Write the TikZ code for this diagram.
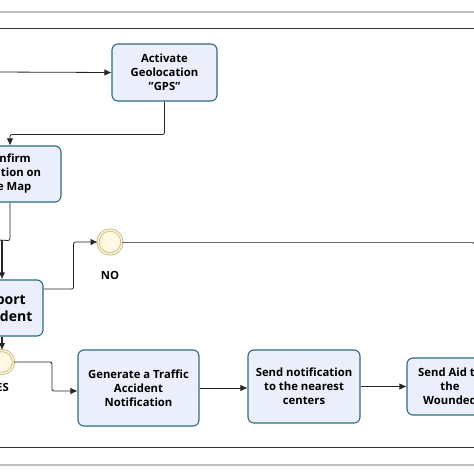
\documentclass[tikz,border=0pt]{standalone}
\usepackage{fontspec}
\setmainfont{Open Sans}[BoldFont={* Bold}]
\usetikzlibrary{arrows.meta}
\definecolor{boxfill}{HTML}{EAEFFB}
\definecolor{boxdraw}{HTML}{2E6A7D}
\definecolor{evfill}{HTML}{FFF9E3}
\definecolor{evdraw}{HTML}{C9BB7E}
\tikzset{
  task/.style={draw=boxdraw, fill=boxfill, line width=1.1pt, rounded corners=6pt,
    align=center, font=\bfseries\fontsize{11.3}{14}\selectfont, inner sep=1pt},
  event/.style={circle, draw=evdraw, fill=evfill, double=evfill, double distance=1.3pt,
    line width=0.9pt, inner sep=0pt},
  flow/.style={draw=black!85, line width=0.8pt, rounded corners=2pt,
    -{Latex[length=7pt,width=6.5pt]}},
  plain/.style={draw=black!85, line width=0.8pt, rounded corners=2pt},
  lbl/.style={font=\bfseries\fontsize{11.3}{13}\selectfont}
}
\begin{document}
\begin{tikzpicture}[x=1pt,y=-1pt]
\useasboundingbox (0,0) rectangle (474,474);
\clip (0,0) rectangle (474,474);
\fill[white] (0,0) rectangle (474,474);
% pool borders
\draw[black!25, line width=1.4pt] (0,12) -- (474,12);
\draw[black!80, line width=0.8pt] (0,28) -- (474,28);
\draw[black!80, line width=0.8pt] (0,447) -- (474,447);
\draw[black!25, line width=1.4pt] (0,465) -- (474,465);
% tasks
\node[task, minimum width=105pt, minimum height=57pt] (act) at (164.5,72.5) {Activate\\Geolocation\\\char34 GPS\char34};
\node[task, minimum width=106pt, minimum height=56pt] (conf) at (8,174) {Confirm\\Location on\\the Map};
\node[task, minimum width=82pt, minimum height=56pt, font=\bfseries\fontsize{14}{16.5}\selectfont] (rep) at (2,308) {Report\\Accident};
\node[task, minimum width=121pt, minimum height=76pt] (gen) at (138.5,388) {Generate a Traffic\\Accident\\Notification};
\node[task, minimum width=112pt, minimum height=73pt] (sendn) at (304,386.5) {Send notification\\to the nearest\\centers};
\node[task, minimum width=86pt, minimum height=57pt] (aid) at (450,386.5) {Send Aid to\\the\\Wounded};
% events
\node[event, minimum size=24pt] (no) at (110,242) {};
\node[lbl] (nolbl) at (110,275) {NO};
\node[event, minimum size=23pt] (yes) at (2,362) {};
\node[lbl] (yeslbl) at (-1,387) {YES};
% coordinates
\coordinate (in0) at (-5,72);
\coordinate (j1) at (2,240);
\coordinate (nend) at (473,242);
% connectors
\draw[flow] (in0) -- (act.west);
\draw[flow] (act.south) -- ++(0,33) -| ([xshift=2pt]conf.north);
\draw[plain] ([xshift=2pt]conf.south) -- ++(0,38) -- ([xshift=-4pt]j1);
\draw[flow, line width=1.6pt] (j1) -- (rep.north);
\draw[flow] ([yshift=19pt]rep.east) -- ++(30,0) |- (no.west);
\draw[draw=black!60, line width=1pt] (no.east) -- (nend) -- ++(0,2);
\draw[flow, line width=1.1pt] (rep.south) -- (yes.north);
\draw[flow] (yes.east) -- ++(38,0) |- ([yshift=-3pt]gen.west);
\draw[flow] (gen.east) -- (sendn.west |- gen.east);
\draw[flow] (sendn.east) -- (aid.west);
\end{tikzpicture}
\end{document}
